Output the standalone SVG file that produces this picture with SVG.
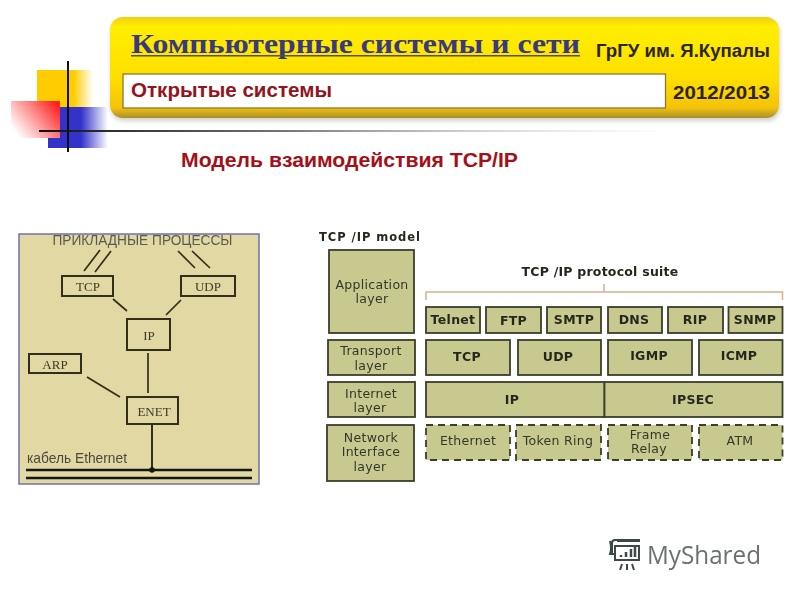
<svg xmlns="http://www.w3.org/2000/svg" width="800" height="600" viewBox="0 0 800 600">
<defs>
<linearGradient id="banner" x1="0" y1="0" x2="0" y2="1"><stop offset="0" stop-color="#f0cf10"/><stop offset="0.1" stop-color="#ffee00"/><stop offset="0.6" stop-color="#ffdf00"/><stop offset="0.9" stop-color="#f4c20a"/><stop offset="1" stop-color="#a98f2c"/></linearGradient>
<linearGradient id="fadeY" x1="0" y1="0" x2="1" y2="0"><stop offset="0.65" stop-color="#ffcc00"/><stop offset="1" stop-color="#ffcc00" stop-opacity="0"/></linearGradient>
<linearGradient id="fadeB" x1="0" y1="0" x2="1" y2="0"><stop offset="0.55" stop-color="#3333cc"/><stop offset="1" stop-color="#3333cc" stop-opacity="0"/></linearGradient>
<linearGradient id="fadeR" x1="1" y1="0.1" x2="0" y2="0.7"><stop offset="0.05" stop-color="#ff2222"/><stop offset="1" stop-color="#ff3333" stop-opacity="0"/></linearGradient>
<linearGradient id="fadeW" x1="0" y1="0" x2="1" y2="0"><stop offset="0" stop-color="#fff" stop-opacity="0"/><stop offset="0.6" stop-color="#fff"/></linearGradient>
<linearGradient id="rule" x1="0" y1="0" x2="1" y2="0"><stop offset="0" stop-color="#111"/><stop offset="0.4" stop-color="#777"/><stop offset="1" stop-color="#ddd" stop-opacity="0.1"/></linearGradient>
<filter id="soft" x="-5%" y="-5%" width="110%" height="110%"><feGaussianBlur stdDeviation="0.45"/></filter>
<filter id="shadow" x="-5%" y="-20%" width="110%" height="140%"><feGaussianBlur stdDeviation="2"/></filter>
</defs>
<style>
text{font-family:"Liberation Sans",Arial,sans-serif}
.s{fill:#c8c98f;stroke:#3a3f2c;stroke-width:1.8}
.d{fill:#c8c98f;stroke:#3a3f2c;stroke-width:1.8;stroke-dasharray:7 5}
.l{font-family:"DejaVu Sans",sans-serif;font-size:12.5px;fill:#33382a;text-anchor:middle;letter-spacing:.3px}
.b{font-family:"DejaVu Sans",sans-serif;font-size:12.5px;font-weight:bold;fill:#25281f;text-anchor:middle;letter-spacing:.3px}
.o{fill:none;stroke:#332e1a;stroke-width:2}
.c{stroke:#332e1a;stroke-width:1.7;fill:none}
.t{font-family:"Liberation Serif",serif;font-size:13px;fill:#3d3a26;text-anchor:middle}
</style>
<rect width="800" height="600" fill="#fff"/>

<g id="decor">
<rect x="37" y="70" width="56" height="40" fill="url(#fadeY)"/>
<rect x="48" y="107" width="60" height="41" fill="url(#fadeB)"/>
<rect x="11" y="101" width="49" height="37" fill="url(#fadeW)"/>
<rect x="11" y="101" width="49" height="37" fill="url(#fadeR)"/>
<rect x="39" y="130" width="620" height="2" fill="url(#rule)"/>
<rect x="67" y="61" width="2" height="91" fill="#111"/>
</g>

<g id="banner">
<rect x="111" y="20" width="669" height="101" rx="13" fill="#9a9a90" opacity=".45" filter="url(#shadow)"/>
<rect x="110" y="17" width="669" height="101" rx="13" fill="url(#banner)"/>
<text x="131" y="53" font-size="27" font-weight="bold" fill="#38397f" textLength="449" lengthAdjust="spacingAndGlyphs" style="font-family:'Liberation Serif',serif">Компьютерные системы и сети</text>
<rect x="131" y="55" width="449" height="1.5" fill="#55523a"/>
<text x="596" y="57" font-size="18.500" font-weight="bold" fill="#2a2410" textLength="174" lengthAdjust="spacingAndGlyphs">ГрГУ им. Я.Купалы</text>
<rect x="123" y="74" width="542.500" height="34" fill="#fff" stroke="#8a7a30" stroke-width="1.300"/>
<text x="131" y="97" font-size="20.500" font-weight="bold" fill="#93141f" textLength="201" lengthAdjust="spacingAndGlyphs">Открытые системы</text>
<text x="673" y="99" font-size="18.500" font-weight="bold" fill="#2a2410" textLength="97" lengthAdjust="spacingAndGlyphs">2012/2013</text>
</g>

<text id="title" x="181" y="167" font-size="20.500" font-weight="bold" fill="#a50f17" textLength="337" lengthAdjust="spacingAndGlyphs">Модель взаимодействия TCP/IP</text>

<g id="stack-diagram" filter="url(#soft)">
<rect x="19" y="234" width="240" height="250" fill="#e2d8a4" stroke="#6f73a8" stroke-width="1.500"/>
<text x="142.500" y="245" font-size="14" fill="#5a5a50" text-anchor="middle" textLength="180" lengthAdjust="spacingAndGlyphs">ПРИКЛАДНЫЕ ПРОЦЕССЫ</text>
<text x="27" y="463" font-size="14.500" fill="#4a4a3c" textLength="100" lengthAdjust="spacingAndGlyphs">кабель Ethernet</text>
<g id="stack-connectors" class="c">
<path d="M84 271 100 250M95 272 111 251M178 251 195 268M192 251 210 268M113 299 127 311M181 300 166 315M148 353V393M87 377 120 397"/>
<path d="M152 424V470" stroke-width="2"/>
<path d="M26 470H252M26 478H252" stroke-width="2.500" stroke="#15130a"/>
<circle cx="152" cy="470" r="2.800" fill="#15130a" stroke="none"/>
</g>
<g id="s-tcp"><rect class="o" x="62" y="276" width="51" height="20"/><text class="t" x="88" y="291">TCP</text></g>
<g id="s-udp"><rect class="o" x="181" y="276" width="54" height="20"/><text class="t" x="208" y="291">UDP</text></g>
<g id="s-ip"><rect class="o" x="127" y="319" width="43" height="31"/><text class="t" x="149" y="340">IP</text></g>
<g id="s-arp"><rect class="o" x="29" y="354" width="52" height="19"/><text class="t" x="55" y="369">ARP</text></g>
<g id="s-enet"><rect class="o" x="127" y="397" width="51" height="27"/><text class="t" x="154" y="416">ENET</text></g>
</g>

<g id="model-diagram" filter="url(#soft)">
<text x="319" y="241" font-size="11.500" font-weight="bold" fill="#25281f" style="font-family:'DejaVu Sans',sans-serif" textLength="101">TCP /IP model</text>
<text x="600" y="276" class="b" textLength="157">TCP /IP protocol suite</text>
<path id="suite-brace" d="M426 300V292H782.500V300M604 292V284" fill="none" stroke="#d9b088" stroke-width="1.500"/>
<g id="m-app"><rect class="s" x="329" y="250" width="85" height="83"/><text class="l" x="372" y="289">Application</text><text class="l" x="372" y="303">layer</text></g>
<g id="m-trans"><rect class="s" x="328" y="340" width="87" height="35"/><text class="l" x="371" y="355">Transport</text><text class="l" x="371" y="370">layer</text></g>
<g id="m-inet"><rect class="s" x="328" y="382" width="87" height="35"/><text class="l" x="371" y="398">Internet</text><text class="l" x="370" y="412">layer</text></g>
<g id="m-net"><rect class="s" x="327" y="425" width="87" height="56"/><text class="l" x="371" y="442">Network</text><text class="l" x="371" y="456">Interface</text><text class="l" x="370" y="471">layer</text></g>
<g id="p-telnet"><rect class="s" x="426" y="307" width="54" height="26"/><text class="b" x="453" y="324">Telnet</text></g>
<g id="p-ftp"><rect class="s" x="486" y="307" width="55" height="26"/><text class="b" x="513.500" y="325">FTP</text></g>
<g id="p-smtp"><rect class="s" x="547" y="307" width="54" height="26"/><text class="b" x="574" y="324">SMTP</text></g>
<g id="p-dns"><rect class="s" x="608" y="307" width="54" height="26"/><text class="b" x="634" y="324">DNS</text></g>
<g id="p-rip"><rect class="s" x="668" y="307" width="55" height="26"/><text class="b" x="695" y="324">RIP</text></g>
<g id="p-snmp"><rect class="s" x="728.500" y="307" width="54" height="26"/><text class="b" x="755" y="324">SNMP</text></g>
<g id="p-tcp"><rect class="s" x="426" y="340" width="84" height="35"/><text class="b" x="467" y="361">TCP</text></g>
<g id="p-udp"><rect class="s" x="518" y="340" width="83" height="35"/><text class="b" x="558" y="361">UDP</text></g>
<g id="p-igmp"><rect class="s" x="608" y="340" width="84" height="35"/><text class="b" x="649" y="360">IGMP</text></g>
<g id="p-icmp"><rect class="s" x="699" y="340" width="83.500" height="35"/><text class="b" x="739" y="360">ICMP</text></g>
<g id="p-ip"><rect class="s" x="426" y="382" width="178.500" height="35"/><text class="b" x="512" y="404">IP</text></g>
<g id="p-ipsec"><rect class="s" x="604.500" y="382" width="178" height="35"/><text class="b" x="693" y="404">IPSEC</text></g>
<g id="p-eth"><rect class="d" x="426" y="425" width="84" height="35"/><text class="l" x="468" y="445">Ethernet</text></g>
<g id="p-token"><rect class="d" x="516" y="425" width="85" height="35"/><text class="l" x="558" y="445">Token Ring</text></g>
<g id="p-frame"><rect class="d" x="608" y="425" width="84" height="35"/><text class="l" x="650" y="439">Frame</text><text class="l" x="649" y="453">Relay</text></g>
<g id="p-atm"><rect class="d" x="699" y="425" width="83.500" height="35"/><text class="l" x="740" y="445">ATM</text></g>
</g>

<g id="logo" filter="url(#soft)" fill="none" stroke="#3e4a46" stroke-width="2">
<path d="M617 541H640M612 554V543Q612 540 615 540H640M610 541Q612 549 610 554H615"/>
<rect x="615" y="546" width="24" height="14"/>
<path d="M622 564 620 570M627 564V570M632 564 634 570"/>
<path d="M621 557V555M626 557V552M631 557V549M635 557V547" stroke-width="2.500"/>
<text x="647" y="564" font-size="25" fill="#6b7072" stroke="none" textLength="114" lengthAdjust="spacingAndGlyphs" style="font-family:'Open Sans',sans-serif">MyShared</text>
</g>
</svg>
